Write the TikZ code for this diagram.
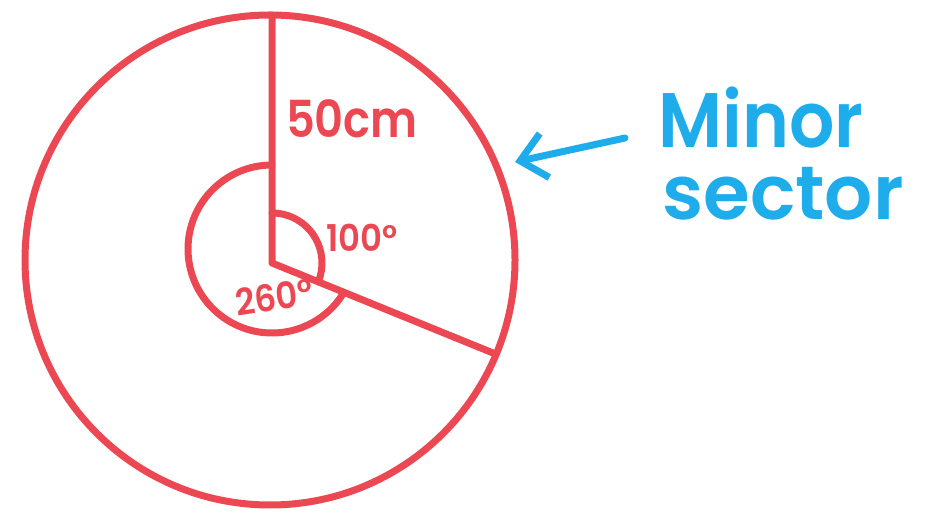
\documentclass[tikz,border=0pt]{standalone}
\usepackage{fontspec}
\setmainfont{Poppins}[BoldFont={Poppins SemiBold}]
\usetikzlibrary{arrows.meta}
\definecolor{penred}{RGB}{236,72,83}
\definecolor{penblue}{RGB}{30,172,234}
\tikzset{
  pen/.style   = {line width=0.14cm, line cap=round, line join=round},
  redpen/.style = {pen, penred},
  bluepen/.style = {pen, penblue},
  hand/.style  = {inner sep=0pt, font=\fontsize{#1}{#1}\selectfont\bfseries},
}

\begin{document}
\begin{tikzpicture}[x=0.02cm,y=0.02cm]
  \useasboundingbox (0,0) rectangle (936,527);
  \coordinate (O) at (272,264);
  \coordinate (T) at (272,512);
  \coordinate (R) at (493,174);
  \draw[redpen] (270,267) circle (245);
  \draw[redpen] (T) -- (O) -- (R);
  \draw[redpen] (272,314) arc[start angle=90, end angle=-22, radius=50];
  \draw[redpen] (272,362) arc[start angle=90, end angle=327, radius=84];
  \node[hand=29pt, penred, xscale=0.88] (len)   at (352,408) {50cm};
  \node[hand=21pt, penred, xscale=0.92] (small) at (362,289) {100°};
  \node[hand=21pt, penred, xscale=0.92, rotate=8] (big) at (274,230) {260°};
  \node[hand=44pt, penblue, xscale=0.92, anchor=base west, text depth=0pt] (minor)  at (658,379) {Minor};
  \node[hand=43pt, penblue, anchor=base west, text height=0.6em] (sector) at (662,307) {sector};
  \coordinate (tail) at (625,389);
  \coordinate (tip) at (515,365);
  \draw[bluepen, -{Straight Barb[length=0.5cm, width=0.9cm]}] (tail) -- (tip);
\end{tikzpicture}
\end{document}
